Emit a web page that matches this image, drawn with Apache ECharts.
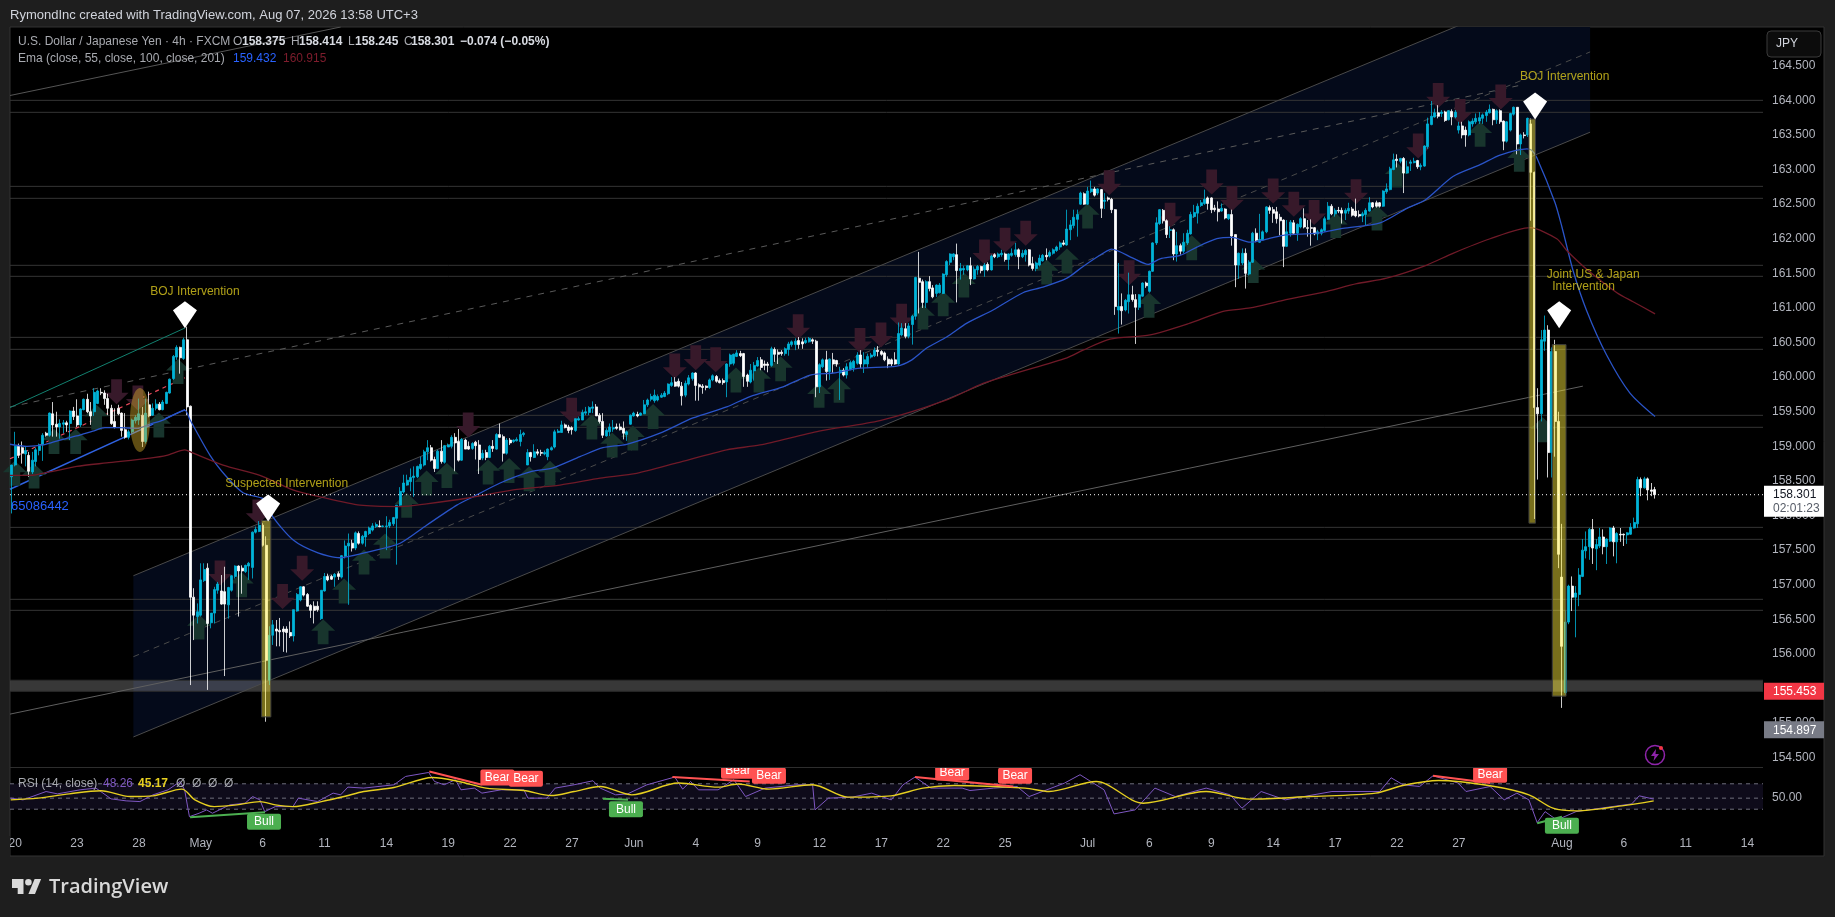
<!DOCTYPE html>
<html><head><meta charset="utf-8"><title>USD/JPY</title>
<style>html,body{margin:0;padding:0;background:#1e1e1e;height:100%}#c{width:1835px;height:917px}</style>
<script src="https://cdn.jsdelivr.net/npm/echarts@6/dist/echarts.min.js"></script></head>
<body><div id="c"></div>
<script>
// every row is [open, close, low, high]
const candlesApr=[[158.56,158.73,158.03,158.73],[158.73,159.00,158.71,159.21],[159.00,158.87,158.83,159.04],[158.98,158.90,158.75,159.07],[158.89,158.94,158.71,159.00],[158.87,158.64,158.56,158.92],[158.63,158.80,158.60,158.92],[158.78,158.95,158.71,158.98],[158.94,159.02,158.87,159.04],[159.02,159.16,158.79,159.19],[159.19,159.16,159.14,159.21],[159.16,159.48,159.14,159.49],[159.47,159.31,159.14,159.64],[159.32,159.28,159.14,159.50],[159.28,159.33,159.11,159.39],[159.32,159.34,159.19,159.38],[159.34,159.31,159.21,159.37],[159.33,159.51,159.09,159.52],[159.51,159.43,159.38,159.57],[159.44,159.31,159.28,159.68],[159.31,159.54,159.28,159.55],[159.53,159.68,159.52,159.69],[159.68,159.50,159.48,159.76],[159.50,159.44,159.31,159.64],[159.50,159.78,159.44,159.84],[159.62,159.80,159.61,159.82],[159.78,159.77,159.74,159.84],[159.77,159.69,159.60,159.81],[159.69,159.55,159.45,159.76],[159.55,159.33,159.31,159.60],[159.36,159.28,159.26,159.55],[159.55,159.47,159.45,159.60],[159.48,159.23,159.14,159.49],[159.24,159.13,159.11,159.48],[159.13,159.21,159.10,159.24],[159.21,159.38,159.19,159.40],[159.37,159.42,159.33,159.45],[159.38,159.47,159.31,159.69],[159.45,159.07,158.99,159.57],[159.07,159.48,159.04,159.69],[159.60,159.44,159.42,159.79],[159.45,159.55,159.44,159.62],[159.55,159.61,159.52,159.68],[159.61,159.53,159.52,159.64],[159.53,159.64,159.52,159.67],[159.62,159.78,159.61,159.79],[159.77,159.97,159.76,159.98],[159.98,160.30,159.96,160.32],[160.29,160.43,160.25,160.46],[160.43,160.28,160.05,160.44],[160.27,160.54,160.25,160.57],[160.54,159.57,159.45,160.73]];
const candlesMay=[[159.58,156.82,155.55,159.59],[156.82,156.56,156.20,156.95],[156.54,156.61,156.44,156.73],[156.56,157.07,156.54,157.31],[157.06,157.22,157.04,157.31],[157.24,156.44,155.48,157.31],[156.45,156.59,156.37,156.59],[156.59,156.93,156.44,156.97],[156.92,157.01,156.87,157.04],[156.91,156.72,156.71,157.14],[156.90,156.72,155.68,157.26],[156.71,156.96,156.51,156.97],[156.92,157.13,156.90,157.14],[157.12,157.27,157.09,157.28],[157.27,157.20,156.54,157.28],[157.24,157.20,156.87,157.28],[157.19,157.28,157.17,157.29],[157.27,157.31,157.07,157.33],[157.25,157.76,157.09,157.77],[157.76,157.80,157.74,157.84],[157.77,157.86,157.76,157.92],[157.86,157.57,157.55,157.89],[157.57,155.91,155.02,157.70],[155.62,156.27,155.55,156.40],[156.27,156.42,156.13,156.49],[156.36,156.33,156.11,156.49],[156.34,156.32,156.11,156.52],[156.36,156.32,156.03,156.40],[156.36,156.31,156.02,156.40],[156.31,156.26,156.23,156.47],[156.26,156.64,156.18,156.64],[156.62,156.86,156.61,156.88],[156.78,156.97,156.76,156.98],[156.97,156.85,156.83,156.98],[156.86,156.69,156.68,156.88],[156.70,156.63,156.52,156.72],[156.69,156.63,156.44,156.76],[156.69,156.64,156.61,156.76],[156.51,156.92,156.49,156.92],[156.91,157.12,156.90,157.17],[157.12,157.07,157.05,157.16],[157.12,157.08,157.07,157.14],[157.11,157.15,156.97,157.17],[157.16,157.12,157.07,157.19],[157.11,157.42,157.09,157.43],[157.41,157.56,157.38,157.64],[157.56,157.60,156.71,157.74],[157.60,157.53,157.48,157.65],[157.53,157.75,157.50,157.77],[157.74,157.60,157.58,157.77],[157.60,157.70,157.58,157.72],[157.69,157.77,157.55,157.78],[157.74,157.82,157.72,157.84],[157.79,157.85,157.77,157.89],[157.84,157.87,157.82,157.90],[157.85,157.84,157.83,157.93],[157.84,157.85,157.83,157.86],[157.84,157.85,157.50,157.99],[157.85,157.90,157.82,157.94],[157.88,157.97,157.85,157.98],[157.96,158.15,157.29,158.15],[158.15,158.35,158.13,158.41],[158.34,158.47,158.32,158.59],[158.44,158.51,158.43,158.59],[158.49,158.55,158.35,158.68],[158.55,158.57,158.27,158.71],[158.56,158.71,158.54,158.72],[158.68,158.74,158.66,158.85],[158.73,158.92,158.71,158.95],[158.92,158.98,158.80,159.09],[158.98,158.80,158.78,159.02],[158.81,158.68,158.63,158.85],[158.68,158.93,158.67,158.95],[158.93,158.78,158.75,159.09],[158.77,159.01,158.75,159.02],[158.99,159.02,158.99,159.04],[159.00,159.13,158.97,159.16],[159.13,159.05,158.64,159.19],[159.07,158.80,158.78,159.25],[158.80,159.10,158.79,159.12],[159.09,158.96,158.96,159.11],[159.00,158.96,158.95,159.07],[158.97,159.04,158.95,159.06],[159.06,159.01,158.81,159.08],[159.02,158.81,158.60,159.09],[158.83,158.90,158.80,158.95],[158.91,158.84,158.80,158.95],[158.84,159.00,158.83,159.02],[159.00,158.97,158.92,159.09],[158.96,159.17,158.95,159.19],[159.17,159.13,159.12,159.33],[159.14,158.90,158.78,159.17],[158.90,159.09,158.88,159.12],[159.09,159.05,159.02,159.12],[159.07,159.09,159.05,159.10],[159.08,159.10,159.07,159.13],[159.07,159.17,159.00,159.24],[159.17,159.19,159.14,159.21]];
const candlesJun=[[158.73,158.91,158.73,158.96],[158.91,158.85,158.78,158.92],[158.84,158.92,158.83,159.03],[158.92,158.90,158.87,158.96],[158.91,158.90,158.86,158.95],[158.89,158.91,158.87,158.94],[158.85,158.96,158.80,158.97],[158.95,158.98,158.94,159.00],[158.99,159.21,158.97,159.24],[159.20,159.22,159.19,159.25],[159.20,159.31,159.20,159.37],[159.31,159.27,159.26,159.33],[159.28,159.23,159.19,159.31],[159.27,159.24,159.17,159.29],[159.23,159.40,159.21,159.40],[159.38,159.40,159.37,159.43],[159.38,159.49,159.38,159.53],[159.48,159.50,159.45,159.57],[159.49,159.56,159.45,159.58],[159.55,159.57,159.48,159.65],[159.57,159.44,159.44,159.61],[159.45,159.36,159.33,159.48],[159.36,159.16,159.12,159.48],[159.15,159.23,159.14,159.26],[159.21,159.28,159.15,159.33],[159.25,159.27,159.21,159.38],[159.28,159.26,159.24,159.33],[159.28,159.24,159.23,159.33],[159.26,159.19,159.10,159.36],[159.17,159.21,159.08,159.23],[159.32,159.45,159.31,159.46],[159.44,159.48,159.43,159.50],[159.46,159.44,159.42,159.50],[159.45,159.48,159.44,159.49],[159.47,159.60,159.47,159.67],[159.60,159.67,159.57,159.69],[159.68,159.72,159.65,159.76],[159.66,159.74,159.63,159.82],[159.67,159.72,159.65,159.75],[159.71,159.74,159.70,159.77],[159.72,159.77,159.71,159.80],[159.76,159.90,159.74,159.91],[159.88,159.92,159.86,160.00],[159.93,159.87,159.86,160.00],[159.94,159.87,159.85,159.98],[159.87,159.73,159.59,159.93],[159.74,159.91,159.71,159.95],[159.90,159.99,159.88,160.03],[159.98,160.06,159.95,160.07],[160.06,159.88,159.66,160.07],[159.89,159.86,159.66,159.91],[159.87,159.85,159.76,159.90],[159.87,159.85,159.81,159.88],[159.85,159.96,159.83,159.98],[159.96,160.02,159.94,160.04],[160.01,159.94,159.92,160.03],[159.95,159.92,159.91,159.98],[159.95,159.92,159.89,159.98],[159.93,160.19,159.71,160.20],[160.19,160.32,160.15,160.34],[160.20,160.33,160.17,160.34],[160.30,160.35,160.29,160.39],[160.34,160.31,160.29,160.38],[160.34,160.01,159.86,160.35],[160.03,159.94,159.86,160.05],[159.93,160.10,159.91,160.19],[160.09,160.17,159.95,160.22],[160.16,160.24,160.15,160.29],[160.25,160.14,160.10,160.29],[160.19,160.17,160.10,160.24],[160.19,160.17,160.07,160.22],[160.17,160.41,160.15,160.44],[160.40,160.33,160.22,160.43],[160.36,160.33,160.19,160.40],[160.36,160.34,160.31,160.39],[160.34,160.41,160.31,160.43],[160.40,160.48,160.31,160.51],[160.47,160.51,160.44,160.53],[160.47,160.52,160.39,160.56],[160.53,160.47,160.41,160.58],[160.51,160.48,160.41,160.56],[160.50,160.53,160.48,160.57],[160.51,160.56,160.50,160.58],[160.54,160.52,160.48,160.56],[160.52,159.86,159.71,160.54]];
const candlesJunLate=[[159.86,160.18,159.77,160.20],[160.15,160.25,160.13,160.27],[160.25,160.08,159.95,160.38],[160.08,160.26,159.96,160.27],[160.25,160.19,160.06,160.35],[160.24,160.19,160.15,160.25],[160.06,160.10,159.67,160.15],[160.10,160.03,160.01,160.13],[160.03,160.15,159.98,160.20],[160.11,160.21,160.10,160.24],[160.13,160.23,160.08,160.25],[160.20,160.32,160.18,160.36],[160.32,160.19,160.13,160.39],[160.19,160.25,160.06,160.36],[160.19,160.30,160.13,160.34],[160.29,160.32,160.27,160.35],[160.31,160.39,160.29,160.43],[160.39,160.37,160.30,160.45],[160.37,160.33,160.31,160.39],[160.35,160.25,160.23,160.37],[160.26,160.19,160.13,160.30],[160.25,160.19,160.16,160.27],[160.25,160.19,160.18,160.36],[160.19,160.63,160.18,160.79],[160.61,160.71,160.59,160.78],[160.70,160.59,160.56,160.78],[160.59,160.74,160.56,160.78],[160.76,160.88,160.47,160.90],[160.88,161.44,160.83,161.45],[161.43,161.37,160.92,161.81],[161.38,161.08,161.00,161.41],[161.08,161.38,161.00,161.40],[161.38,161.28,161.24,161.46],[161.29,161.16,161.14,161.33],[161.21,161.33,161.16,161.34],[161.22,161.33,161.21,161.36],[161.21,161.49,161.20,161.50],[161.48,161.67,161.45,161.69],[161.66,161.78,161.62,161.79],[161.74,161.78,161.69,161.79],[161.77,161.54,161.08,161.93],[161.54,161.57,161.41,161.65],[161.55,161.57,161.48,161.61],[161.55,161.61,161.53,161.62],[161.61,161.42,161.33,161.73],[161.42,161.56,161.41,161.60],[161.55,161.60,161.48,161.62],[161.60,161.54,161.50,161.61],[161.55,161.62,161.45,161.65],[161.63,161.55,161.53,161.66],[161.55,161.75,161.54,161.77],[161.77,161.74,161.72,161.79],[161.74,161.78,161.72,161.80],[161.77,161.79,161.74,161.84],[161.78,161.70,161.67,161.80],[161.70,161.78,161.55,161.79],[161.76,161.79,161.74,161.86],[161.77,161.84,161.74,161.94],[161.84,161.74,161.56,161.86],[161.74,161.79,161.72,161.84],[161.77,161.83,161.67,161.85],[161.84,161.62,161.60,161.85],[161.64,161.57,161.54,161.74],[161.57,161.65,161.53,161.67],[161.62,161.72,161.60,161.77],[161.68,161.76,161.67,161.78],[161.76,161.74,161.69,161.86],[161.75,161.80,161.73,161.83],[161.79,161.84,161.77,161.86],[161.83,161.88,161.81,161.90],[161.88,161.94,161.84,161.96],[161.94,161.92,161.90,161.98]];
const candlesJul=[[161.91,162.14,161.90,162.42],[162.13,162.20,161.98,162.27],[162.19,162.31,162.15,162.42],[162.28,162.35,162.03,162.42],[162.50,162.66,162.49,162.68],[162.65,162.50,162.49,162.67],[162.50,162.69,162.49,162.75],[162.68,162.72,162.66,162.84],[162.72,162.63,162.61,162.75],[162.66,162.72,162.63,162.73],[162.71,162.44,162.30,162.72],[162.54,162.56,162.43,162.66],[162.59,162.57,162.54,162.61],[162.57,162.42,162.37,162.59],[162.42,161.02,160.90,162.43],[160.97,161.02,160.63,161.65],[161.02,160.96,160.76,161.21],[160.97,161.11,160.95,161.13],[161.09,161.19,160.92,161.51],[161.19,161.12,161.09,161.32],[161.12,161.01,160.48,161.20],[161.01,161.19,160.97,161.20],[161.17,161.36,161.16,161.37],[161.36,161.32,161.29,161.38],[161.24,161.53,161.22,161.54],[161.53,161.94,161.52,161.95],[161.94,162.23,161.91,162.31],[162.22,162.42,162.20,162.43],[162.41,162.26,162.22,162.43],[162.26,162.06,162.01,162.28],[162.12,162.13,162.01,162.18],[162.13,161.78,161.69,162.15],[161.78,161.90,161.67,162.10],[161.90,161.82,161.77,161.93],[161.82,161.95,161.79,162.08],[161.94,162.08,161.91,162.13],[162.07,162.35,162.06,162.39],[162.32,162.38,162.30,162.49],[162.37,162.47,162.22,162.51],[162.48,162.52,162.46,162.56],[162.51,162.57,162.49,162.71],[162.59,162.51,162.42,162.61],[162.59,162.42,162.37,162.60],[162.44,162.42,162.39,162.49],[162.43,162.39,162.25,162.54],[162.40,162.44,162.39,162.51],[162.43,162.30,162.28,162.44],[162.29,162.35,162.27,162.36],[162.35,162.04,161.90,162.42],[162.06,161.62,161.30,162.06],[161.62,161.79,161.42,161.80]];
const candlesJulMid=[[161.65,161.79,161.62,161.86],[161.79,161.50,161.28,161.86],[161.49,161.66,161.47,161.69],[161.66,162.08,161.65,162.10],[162.08,161.98,161.95,162.15],[161.95,161.99,161.94,162.36],[161.98,162.10,161.97,162.12],[162.10,162.46,162.08,162.47],[162.45,162.41,162.36,162.48],[162.42,162.37,162.23,162.46],[162.39,162.29,162.22,162.46],[162.31,162.26,162.05,162.36],[162.27,161.89,161.59,162.28],[161.89,162.10,161.88,162.27],[162.08,162.24,162.03,162.27],[162.23,162.08,162.07,162.27],[162.08,162.21,161.97,162.22],[162.17,162.29,162.15,162.31],[162.29,162.17,162.15,162.44],[162.16,162.15,162.03,162.27],[162.16,162.15,161.90,162.28],[162.16,162.07,162.05,162.17],[162.07,162.10,161.98,162.13],[162.08,162.13,162.05,162.15],[162.12,162.29,162.10,162.32],[162.28,162.47,162.27,162.53],[162.47,162.36,162.34,162.50],[162.36,162.41,162.32,162.44],[162.41,162.40,162.37,162.46],[162.41,162.37,162.22,162.45],[162.37,162.41,162.27,162.44],[162.40,162.44,162.36,162.52],[162.43,162.34,162.32,162.46],[162.40,162.33,162.31,162.58],[162.35,162.33,162.31,162.41],[162.33,162.36,162.24,162.39],[162.35,162.41,162.19,162.44],[162.40,162.52,162.39,162.60],[162.52,162.46,162.44,162.53],[162.52,162.47,162.45,162.55],[162.52,162.47,162.45,162.53],[162.47,162.69,162.46,162.70],[162.68,162.72,162.65,162.80],[162.71,163.01,162.70,163.04],[163.00,163.14,162.99,163.23],[163.15,163.13,163.03,163.22],[163.12,163.16,163.09,163.17],[163.16,162.95,162.66,163.18],[162.95,163.04,162.94,163.13],[163.09,163.11,162.98,163.14],[163.10,163.12,163.09,163.17],[163.13,163.04,163.01,163.14],[163.04,163.06,162.99,163.09],[163.05,163.34,163.04,163.35],[163.33,163.66,163.30,163.75],[163.65,163.77,163.64,163.99],[163.76,163.82,163.75,163.88],[163.82,163.77,163.74,163.93],[163.81,163.83,163.76,163.86],[163.83,163.71,163.69,163.85],[163.72,163.85,163.71,163.86],[163.84,163.76,163.64,163.87],[163.76,163.83,163.74,163.86],[163.57,163.63,163.52,163.69],[163.63,163.50,163.45,163.69],[163.57,163.50,163.33,163.62],[163.50,163.69,163.48,163.71],[163.66,163.70,163.62,163.74],[163.69,163.74,163.66,163.81],[163.70,163.75,163.66,163.83],[163.74,163.79,163.66,163.81],[163.78,163.83,163.69,163.86],[163.82,163.87,163.81,163.94],[163.87,163.72,163.64,163.88],[163.72,163.85,163.66,163.87],[163.85,163.69,163.66,163.87],[163.70,163.41,163.28,163.71],[163.41,163.69,163.39,163.70],[163.57,163.81,163.55,163.82],[163.80,163.90,163.78,163.91],[163.90,163.37,163.22,163.90],[163.37,163.50,163.21,163.52],[163.50,163.49,163.45,163.54],[163.50,163.74,163.47,163.75]];
const candlesAug=[[163.66,162.96,162.26,163.74],[162.96,159.56,157.95,162.97],[159.56,159.47,158.52,159.84],[159.47,160.54,159.36,160.68],[160.52,160.68,160.38,160.89],[160.68,158.91,158.55,160.75],[158.91,160.37,158.55,160.43],[160.37,159.36,158.85,160.54],[159.36,157.44,157.24,159.50],[157.11,156.11,155.22,157.88],[155.44,156.46,155.41,156.63],[156.46,156.98,156.43,157.00],[156.98,156.82,156.62,157.12],[156.82,156.88,156.24,156.98],[156.86,157.14,156.69,157.24],[157.12,157.50,157.11,157.66],[157.49,157.55,157.38,157.77],[157.55,157.80,157.36,157.82],[157.80,157.53,157.30,157.95],[157.52,157.58,157.21,157.66],[157.56,157.69,157.53,157.82],[157.69,157.55,157.44,157.80],[157.55,157.66,157.30,157.67],[157.63,157.82,157.62,157.83],[157.82,157.62,157.41,157.85],[157.62,157.74,157.31,157.76],[157.73,157.72,157.62,157.82],[157.73,157.72,157.56,157.74],[157.72,157.75,157.59,157.76],[157.73,157.83,157.72,157.89],[157.82,157.90,157.81,157.97],[157.88,158.52,157.82,158.56],[158.52,158.40,158.28,158.55],[158.40,158.53,158.39,158.56],[158.53,158.37,158.22,158.55],[158.37,158.35,158.28,158.47],[158.375,158.301,158.245,158.414]];

// [bar position, value]
const ema55=[[-.5,159.03],[4.4,159.0],[9.1,159.02],[14,159.09],[18.9,159.15],[23.6,159.22],[27.1,159.27],[31.5,159.27],[36.5,159.26],[40.2,159.32],[44,159.38],[50.4,159.52],[51.9,159.38],[57.7,158.87],[62.5,158.56],[67.3,158.33],[74.3,158.22],[75.6,158.01],[81.8,157.65],[89.1,157.46],[95.5,157.39],[104.2,157.48],[113,157.6],[120.7,157.86],[129.5,158.15],[134.2,158.27],[142.1,158.47],[150.8,158.63],[157.5,158.69],[165.3,158.85],[172,158.98],[178.9,159.03],[188.6,159.19],[198.2,159.41],[208,159.57],[214.8,159.72],[224.4,159.86],[232.3,160.03],[239,160.06],[246.8,160.13],[257.5,160.16],[261.9,160.25],[266.2,160.42],[272,160.58],[277.9,160.78],[285.5,160.97],[294.2,161.22],[300,161.3],[307,161.43],[311.7,161.6],[317.5,161.79],[320,161.85],[326.2,161.72],[330.6,161.63],[334.1,161.71],[339.9,161.76],[344.8,161.88],[350.6,162],[355,162.02],[360.3,161.95],[364,161.98],[369.9,162.05],[379.7,162.08],[387.2,162.15],[398.1,162.23],[405.9,162.44],[411.2,162.56],[419.3,162.9],[427.2,163.07],[433,163.21],[440.8,163.3],[442.2,163.28],[443.7,163.17],[449,162.52],[451,162.17],[454.3,161.53],[458.2,160.96],[464,160.32],[470.8,159.77],[478.1,159.43]];
const ema201=[[-.5,158.58],[5.3,158.58],[11.1,158.63],[18.9,158.71],[27.6,158.76],[40.2,158.83],[45.1,158.87],[50.4,158.95],[52.4,158.91],[61.5,158.73],[72.2,158.58],[81.8,158.37],[89.7,158.27],[101.3,158.15],[113,158.13],[120.7,158.17],[132.4,158.25],[145.9,158.37],[159.5,158.44],[171.2,158.54],[181.8,158.61],[193.5,158.76],[208,158.95],[217.7,159.02],[234.9,159.22],[252.6,159.37],[272,159.67],[282.6,159.91],[292.4,160.06],[307,160.28],[311.7,160.39],[319.5,160.55],[331.2,160.61],[342.8,160.78],[352.4,160.95],[360.3,161],[369.9,161.11],[381.7,161.23],[391.3,161.35],[400,161.43],[411.7,161.62],[419.3,161.79],[430.1,162],[441.7,162.16],[449.5,162],[452.4,161.83],[458.2,161.56],[467,161.22],[471.7,161.09],[478.1,160.915]];
const rsiMa=[[-.3,46.9],[7.6,50],[16.7,57.8],[26,63.3],[34.4,52.9],[41.1,54.2],[49.5,66.4],[53.3,46.9],[58.9,34.7],[65.5,37.8],[72.2,43.8],[76.7,37.8],[81.8,34.7],[90.1,43.8],[96.7,52.9],[102.4,62],[111.2,69.3],[122.4,87.5],[130.1,80.2],[138,68.2],[149,63.8],[156.9,54.7],[163.6,62],[171.2,71.1],[180.4,56],[194,77.3],[205.5,70],[211.3,75.5],[220.3,66.4],[233,74.2],[243.3,51.8],[255.8,54.2],[265.1,68.2],[274.2,72.9],[294.8,68.2],[301.8,62],[315.5,80.2],[329.2,40.9],[347.5,62],[360.3,48.2],[377.4,52.9],[396.8,59.1],[404.7,72.9],[415.1,82],[430.1,72.4],[441.4,56],[448.4,31.8],[455.1,26.9],[469,36.5],[477.7,45.17]];
const rsiLine=[[-.3,50],[3.3,46.9],[10,62],[13.3,57.8],[19.9,65.1],[24.5,68.2],[28.9,48.7],[33.3,45.1],[37.3,43.8],[41.1,56],[45.5,65.1],[49,80.2],[50.3,65.1],[51.7,16.5],[54.5,22.7],[56.7,28.7],[58.4,22.7],[63.4,37.8],[67.9,40.9],[70.1,52.9],[72.2,46.9],[73.6,25.6],[76.7,34.7],[81.8,34.7],[83.4,50],[89,43.8],[93.5,59.1],[95.7,56],[97.8,70],[102.4,68.2],[111.2,74.2],[114.6,89.3],[121.3,96.5],[123,80.2],[125.8,74.2],[129.1,83.3],[130.7,65.1],[134.6,68.2],[136.8,59.1],[142.4,65.1],[149,65.1],[150.2,50],[155.7,50],[158.1,68.2],[163.6,74.2],[169.1,81.5],[171.2,68.2],[175.7,56],[179.2,57.8],[184.8,74.2],[192.9,88.2],[195.2,66.4],[197.5,80.2],[199.8,65.1],[205.5,65.1],[210.1,83.3],[213.5,52.9],[219.2,68.2],[228.5,74.2],[233,74.2],[233.7,28.7],[237.6,50],[244.5,51.8],[250.2,59.1],[255.9,46.9],[259.3,74.2],[262.8,88.2],[267.4,68.2],[276.5,68.2],[278.8,63.8],[285.7,68.2],[292.5,71.1],[296,52.9],[306.3,77.3],[310.8,92.4],[317.8,65.1],[320.7,21.5],[326.8,28.7],[332.6,68.2],[338.5,52.9],[347.5,68.2],[354.5,56],[357.9,31.8],[363.5,62],[370.5,46.9],[384.1,62],[398,62],[401.3,86.9],[404.8,74.2],[409.6,71.1],[413.5,90.5],[420.8,77.3],[423.1,62],[430.1,71.1],[434.2,46.9],[437.9,59.1],[441.4,46.9],[443.8,5.6],[446.1,25.6],[449.5,10.5],[455.1,25.6],[471.3,39.6],[473.5,54.2],[477.7,48.26]];

const downArrows=[[30.5,159.79],[36.7,159.7],[60.6,157.17],[71.6,158.05],[84.5,157.24],[78.8,156.83],[132.8,159.31],[162.9,159.52],[228.8,160.73],[192.9,160.16],[199,160.28],[204.8,160.25],[246.8,160.53],[252.9,160.61],[258.9,160.88],[283,161.81],[289,161.98],[295,162.08],[319.3,162.81],[325.1,161.51],[337,162.34],[349.1,162.82],[355,162.58],[367,162.69],[373,162.5],[378.9,162.38],[391.1,162.68],[409.2,163.34],[415,164.07],[421.4,163.84],[433.2,164.05]];
const upArrows=[[.9,158.61],[6.5,158.57],[12.3,159.07],[18.6,159.07],[24.7,159.42],[42.8,159.31],[48.4,160.08],[54.5,156.39],[66.9,157],[90.6,156.32],[96.7,156.91],[102.5,157.33],[108.6,157.56],[114.9,158.15],[120.7,158.47],[126.6,158.58],[138.6,158.63],[144.7,158.65],[150.5,158.53],[156.6,158.61],[168.8,159.28],[174.7,159.02],[180.7,159.12],[186.6,159.43],[210.7,159.96],[217.4,159.96],[223.7,160.12],[234.9,159.74],[240.7,159.81],[265.1,160.87],[271,161.06],[277,161.33],[301.1,161.52],[307,161.68],[313,162.33],[330.9,161.04],[343.3,161.87],[361.2,161.54],[385.2,162.19],[397.2,162.3],[403,162.92],[427.2,163.51],[438.6,163.15],[445.4,159.24]];
const interventionMarks=[[50.4,160.9],[74.6,158.11],[443.2,163.92],[450.2,160.9]];
const interventionBoxes=[[72.7,75.4,157.93,155.09],[441.4,443.3,163.73,157.89],[448.2,452.2,160.47,155.39]];
const annotations=[["BOJ Intervention",53.3,161.23],["Suspected Intervention",80,158.46],["BOJ Intervention",451.8,164.34],["Joint US & Japan",460.1,161.48],["Intervention",457.3,161.31]];
const levels=[164,163.827,162.757,162.584,161.616,161.457,160.575,160.402,159.448,159.275,157.829,157.656,156.789,156.63];
const supportZone=[155.46,155.62];
const channel=[[35.4,157.13],[459.2,165.87],[459.2,163.54],[35.4,154.8]];
const channelMid=[[35.4,155.96],[459.2,164.7]];
const channelUp=[[35.4,157.13],[459.2,165.87]];
const channelLow=[[35.4,154.8],[459.2,163.54]];
const longLine=[[-.5,155.13],[457.1,159.87]];
const topLine=[[-.5,164.07],[95.7,165.06]];
const dashLine=[[-.5,159.57],[439.1,164.22]];
const tealLine=[[-.5,159.56],[50.4,160.71]];
const blueTrend=[[-.5,158.38],[50.4,159.53]];
const redTrend=[[-.5,158.82],[50.4,159.99]];
const wedgeOval=[[37.3,159.38]];
const rsiRedLines=[[[121.5,98.4],[136.8,74.2]],[[192.2,88.2],[214.7,80.2]],[[262.8,88.2],[291.4,71.1]],[[413.5,90.5],[430.1,77.3]]];
const rsiGreenLines=[[[51.9,15.5],[73.7,24.5]],[[172,48.7],[179.3,46.9]],[[443.8,4.5],[451,16.5]]];
const rsiTags=[["Bull",73.4,7.5],["Bear",141.3,87.5],["Bear",149.6,85],["Bear",211.3,99.6],["Bear",220.3,90.5],["Bear",273.6,96.5],["Bear",291.9,90.5],["Bear",430.1,92.4],["Bull",178.7,30],["Bull",451,0.2]];
const rsiBands=[30,50,76];
const priceTicks=[154.5,155,155.5,156,156.5,157,157.5,158,158.5,159,159.5,160,160.5,161,161.5,162,162.5,163,163.5,164,164.5];
const tickLabels=['20','23','28','May','6','11','14','19','22','27','Jun','4','9','12','17','22','25','Jul','6','9','14','17','22','27','Aug','6','11','14'];
const tickDays=[0,3,6,9,12,15,18,21,24,27,30,33,36,39,42,45,48,52,55,58,61,64,67,70,75,78,81,84];
const lastPrice=158.301, stopPrice=155.453, greyPrice=154.897;

const font='"Liberation Sans",Arial,sans-serif';
const N=510;
const candles=[].concat(candlesApr,candlesMay,candlesJun,candlesJunLate,candlesJul,candlesJulMid,candlesAug);
const cats=Array.from({length:N},()=>'');
tickDays.forEach((d,k)=>{cats[6*d+1]=tickLabels[k];});

const L=10,RX=1763,TOP=27,PB=767,RB=835;
const UP='#00b4d8',DN='#ffffff';
const mainAxes={xAxisIndex:1,yAxisIndex:0},rsiAxes={xAxisIndex:3,yAxisIndex:1};
function line(data,color,width,type,z,axes,smooth){return Object.assign({type:'line',data,symbol:'none',silent:true,animation:false,z:z||4,smooth:smooth||false,lineStyle:{color,width:width||1,type:type||'solid'},clip:true},axes||mainAxes);}
const series=[];
series.push(Object.assign({type:'custom',silent:true,animation:false,clip:true,z:2,data:[channel.flat()],
 renderItem:(p,api)=>({type:'polygon',shape:{points:[0,2,4,6].map(k=>api.coord([api.value(k),api.value(k+1)]))},style:{fill:'#040a1a'}})},mainAxes));
series.push(Object.assign({type:'custom',silent:true,animation:false,clip:true,z:2,data:[[rsiBands[0],rsiBands[2]]],
 renderItem:(p,api)=>{const a=api.coord([-.5,api.value(1)]),b=api.coord([N-.5,api.value(0)]);return{type:'rect',shape:{x:a[0],y:a[1],width:b[0]-a[0],height:b[1]-a[1]},style:{fill:'#0e0b1a'}};}},rsiAxes));
rsiBands.forEach(v=>series.push(line([[-.5,v],[N-.5,v]],'#6f6f7c',1,[4,4],3,rsiAxes)));
levels.forEach(v=>series.push(line([[-.5,v],[N-.5,v]],'#353535',1,'solid',3)));
series.push(Object.assign({type:'custom',silent:true,animation:false,clip:true,z:4,data:[supportZone],
 renderItem:(p,api)=>{const a=api.coord([-.5,api.value(1)]),b=api.coord([N-.5,api.value(0)]);return{type:'rect',shape:{x:a[0],y:a[1],width:b[0]-a[0],height:b[1]-a[1]},style:{fill:'rgba(255,255,255,0.22)',stroke:'#2c2c2c',lineWidth:1}};}},mainAxes));
series.push(line(channelUp,'#4a4a4a',1));
series.push(line(channelLow,'#4a4a4a',1));
series.push(line(channelMid,'#4a4a4a',1,[6,5]));
series.push(line(longLine,'#5f5f5f',1));
series.push(line(topLine,'#555555',1));
series.push(line(dashLine,'#5a5a5a',1,[6,6]));
series.push(line(tealLine,'#12806f',1));
series.push(line(blueTrend,'#2f62e0',1.4));
series.push(line(redTrend,'#e8495a',1.2,[4,4]));
const arrowDown='path://M5.5,0 H14.5 V12 H20 L10,22 L0,12 H5.5 Z',arrowUp='path://M10,0 L20,10 H14.5 V22 H5.5 V10 H0 Z';
series.push(Object.assign({type:'scatter',silent:true,animation:false,z:5,symbol:arrowDown,symbolSize:[24,25],data:downArrows,itemStyle:{color:'#37192a',opacity:1}},mainAxes));
series.push(Object.assign({type:'scatter',silent:true,animation:false,z:5,symbol:arrowUp,symbolSize:[24,25],data:upArrows,itemStyle:{color:'#18352d',opacity:1}},mainAxes));
series.push({type:'candlestick',xAxisIndex:0,yAxisIndex:0,data:candles,barWidth:2.5,silent:true,animation:false,z:6,
 itemStyle:{color:UP,color0:DN,borderColor:UP,borderColor0:DN,borderWidth:0.8}});
series.push(line(ema55,'#2a54c8',1.3,'solid',7,mainAxes,0.25));
series.push(line(ema201,'#701a28',1.3,'solid',7,mainAxes,0.25));
series.push(Object.assign({type:'custom',silent:true,animation:false,clip:true,z:8,data:interventionBoxes,
 renderItem:(p,api)=>{const a=api.coord([api.value(0),api.value(2)]),b=api.coord([api.value(1),api.value(3)]);return{type:'rect',shape:{x:a[0],y:a[1],width:b[0]-a[0],height:b[1]-a[1]},style:{fill:'rgba(255,235,59,0.47)',stroke:'#3c3c3c',lineWidth:1}};}},mainAxes));
series.push(Object.assign({type:'custom',silent:true,animation:false,clip:true,z:8,data:wedgeOval,
 renderItem:(p,api)=>{const c=api.coord([api.value(0),api.value(1)]);return{type:'ellipse',shape:{cx:c[0],cy:c[1],rx:10,ry:32},style:{fill:'rgba(225,180,45,0.42)'}};}},mainAxes));
series.push(Object.assign({type:'scatter',silent:true,animation:false,z:9,symbol:'path://M12,0 L24,9 L12,27 L0,9 Z',symbolSize:[24,27],data:interventionMarks,itemStyle:{color:'#fff',opacity:1}},mainAxes));
series.push(line([[-.5,lastPrice],[N-.5,lastPrice]],'#ffffff',1,[1,3],9));
series.push(Object.assign({type:'scatter',silent:true,animation:false,z:10,symbolSize:0,data:annotations.map(a=>[a[1],a[2]]),
 label:{show:true,position:'inside',formatter:q=>annotations[q.dataIndex][0],color:'#dcc81e',fontSize:12,fontFamily:font}},mainAxes));
series.push(line(rsiLine,'#7e57c2',1,'solid',6,rsiAxes));
series.push(line(rsiMa,'#e6cf20',1.4,'solid',7,rsiAxes,0.3));
rsiRedLines.forEach(l=>series.push(line(l,'#ff5252',2,'solid',8,rsiAxes)));
rsiGreenLines.forEach(l=>series.push(line(l,'#4caf50',2,'solid',8,rsiAxes)));
series.push(Object.assign({type:'custom',silent:true,animation:false,clip:true,z:9,data:rsiTags.map(t=>[t[1],t[2]]),
 renderItem:(p,api)=>{const c=api.coord([api.value(0),api.value(1)]),t=rsiTags[p.dataIndex][0];
  return{type:'group',children:[{type:'rect',shape:{x:c[0]-17,y:c[1]-8,width:34,height:16,r:2},style:{fill:t==='Bull'?'#4caf50':'#ff5252'}},
  {type:'text',style:{text:t,x:c[0],y:c[1],align:'center',verticalAlign:'middle',fill:'#fff',font:'12px '+font}}]};}},rsiAxes));
const tags=[[lastPrice,'#ffffff','#131722',2],[stopPrice,'#f23645','#ffffff',1],[greyPrice,'#787b86','#ffffff',1]];
series.push(Object.assign({type:'custom',silent:true,animation:false,clip:false,z:20,data:tags.map(t=>[0,t[0]]),
 renderItem:(p,api)=>{const c=api.coord([0,api.value(1)]),t=tags[p.dataIndex],x=RX+1,w=60;
  const kids=[{type:'rect',shape:{x,y:c[1]-9,width:w,height:t[3]===2?31:17},style:{fill:t[1]}},
   {type:'text',style:{text:t[0].toFixed(3),x:x+9,y:c[1],align:'left',verticalAlign:'middle',fill:t[2],font:'12px '+font}}];
  if(t[3]===2)kids.push({type:'text',style:{text:'02:01:23',x:x+9,y:c[1]+14,align:'left',verticalAlign:'middle',fill:'#555b66',font:'12px '+font}});
  return{type:'group',children:kids};}},mainAxes));

function txt(text,x,y,fill,o){return {type:'text',x,y,z:30,silent:true,style:Object.assign({text,fill,font:'12px '+font,verticalAlign:'middle',align:'left'},o||{})};}
const W='#d8dbe2',G='#a8aab0';
const graphic=[
 {type:'rect',z:-10,silent:true,shape:{x:L,y:TOP,width:1814,height:829},style:{fill:'#000',stroke:'#333',lineWidth:1}},
 {type:'rect',z:25,silent:true,shape:{x:0,y:836,width:L,height:20},style:{fill:'#1e1e1e'}},
 {type:'rect',z:25,silent:true,shape:{x:L,y:PB,width:RX-L,height:1},style:{fill:'#2e2e2e'}},
 txt('RymondInc created with TradingView.com, Aug 07, 2026 13:58 UTC+3',10,15,'#d1d4dc',{font:'13px '+font}),
 txt('U.S. Dollar / Japanese Yen · 4h · FXCM',18,42,G),
 txt('O',233,42,G),txt('158.375',242,42,W,{font:'bold 12px '+font}),
 txt('H',291,42,G),txt('158.414',299,42,W,{font:'bold 12px '+font}),
 txt('L',348,42,G),txt('158.245',355,42,W,{font:'bold 12px '+font}),
 txt('C',404,42,G),txt('158.301',411,42,W,{font:'bold 12px '+font}),
 txt('−0.074 (−0.05%)',460,42,W,{font:'bold 12px '+font}),
 txt('Ema (close, 55, close, 100, close, 201)',18,59,G),
 txt('159.432',233,59,'#2962ff'),txt('160.915',283,59,'#7f1d2d'),
 txt('65086442',11,506,'#2962ff',{font:'13px '+font}),
 txt('RSI (14, close)',18,784,G),
 txt('48.26',103,784,'#7e57c2'),txt('45.17',138,784,'#e6cf20',{font:'bold 12px '+font}),
 txt('Ø',176,784,G),txt('Ø',192,784,G),txt('Ø',208,784,G),txt('Ø',224,784,G),
 {type:'rect',z:30,silent:true,shape:{x:1767,y:31,width:54,height:26,r:4},style:{fill:'#0c0c0c',stroke:'#3a3a3a',lineWidth:1}},
 txt('JPY',1776,44,'#d1d4dc'),
 {type:'circle',z:30,silent:true,shape:{cx:1655,cy:755,r:9.5},style:{fill:'none',stroke:'#8e24aa',lineWidth:1.5}},
 {type:'polygon',z:30,silent:true,shape:{points:[[1656,749],[1651,756],[1654.5,756],[1653.5,761],[1659,754],[1655.5,754]]},style:{fill:'#8e24aa'}},
 {type:'circle',z:31,silent:true,shape:{cx:1661,cy:748,r:2},style:{fill:'#f23645'}},
 {type:'polygon',z:30,silent:true,shape:{points:[[23.5,894],[17.7,894],[17.7,888.1],[12,888.1],[12,879],[23.5,879]]},style:{fill:'#d9d9d9'}},
 {type:'polygon',z:30,silent:true,shape:{points:[[35,894],[28.4,894],[34.6,879],[41.1,879]]},style:{fill:'#d9d9d9'}},
 {type:'circle',z:30,silent:true,shape:{cx:28.4,cy:882.3,r:3.3},style:{fill:'#d9d9d9'}},
 txt('TradingView',49,887,'#d9d9d9',{font:'600 20px "Open Sans",'+font})
];

const chart=echarts.init(document.getElementById('c'),null,{renderer:'canvas',width:1835,height:917});
chart.setOption({
 animation:false,backgroundColor:'#1e1e1e',
 grid:[{left:L,top:TOP,width:RX-L,height:PB-TOP},{left:L,top:PB,width:RX-L,height:RB-PB}],
 xAxis:[
  {type:'category',gridIndex:0,data:cats,show:false,boundaryGap:true},
  {type:'value',gridIndex:0,min:-.5,max:N-.5,show:false},
  {type:'category',gridIndex:1,data:cats,boundaryGap:true,axisLine:{show:false},axisTick:{show:false},splitLine:{show:false},
   axisLabel:{interval:(i,v)=>v!=='',color:'#b2b5be',fontSize:12,fontFamily:font,margin:3,hideOverlap:false}},
  {type:'value',gridIndex:1,min:-.5,max:N-.5,show:false}],
 yAxis:[
  {type:'value',gridIndex:0,position:'right',min:154.366,max:165.06,splitLine:{show:false},axisLine:{show:false},axisTick:{show:false},
   axisLabel:{customValues:priceTicks,color:'#b2b5be',fontSize:12,fontFamily:font,margin:9,formatter:v=>v.toFixed(3),showMinLabel:true,showMaxLabel:true}},
  {type:'value',gridIndex:1,position:'right',min:-16.7,max:106.4,splitLine:{show:false},axisLine:{show:false},axisTick:{show:false},
   axisLabel:{customValues:[50],color:'#b2b5be',fontSize:12,fontFamily:font,margin:9,formatter:v=>v.toFixed(2)}}],
 graphic:{elements:graphic},
 series
});
</script></body></html>
